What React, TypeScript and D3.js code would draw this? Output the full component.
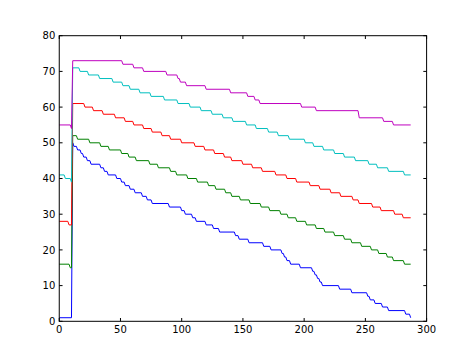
import React from "react";
import * as d3 from "d3";

const W = 474;
const H = 357;

const xTicks = [0, 50, 100, 150, 200, 250, 300];
const yTicks = [0, 10, 20, 30, 40, 50, 60, 70, 80];
const lastX = 287;

// step data: [x where the level starts, level]
const blueSteps: [number, number][] = [
  [0, 1], [11, 50], [12, 49], [15, 48], [18, 47], [20, 46], [23, 45], [26, 44], [34, 43], [37, 42],
  [40, 41], [47, 40], [51, 39], [54, 38], [58, 37], [62, 36], [68, 35], [72, 34], [76, 33], [90, 32],
  [100, 31], [103, 30], [109, 29], [112, 28], [120, 27], [126, 26], [131, 25], [144, 24], [147, 23],
  [155, 22], [167, 21], [173, 20], [182, 19], [184, 18], [186, 17], [189, 16], [197, 15], [207, 14],
  [209, 13], [211, 12], [213, 11], [215, 10], [229, 9], [239, 8], [252, 7], [254, 6], [258, 5],
  [264, 4], [269, 3], [283, 2], [287, 1],
];
const greenSteps: [number, number][] = [
  [0, 16], [9, 15], [11, 52], [15, 51], [25, 50], [34, 49], [41, 48], [51, 47], [57, 46], [63, 45],
  [74, 44], [81, 43], [91, 42], [96, 41], [105, 40], [113, 39], [122, 38], [128, 37], [136, 36],
  [141, 35], [148, 34], [156, 33], [165, 32], [172, 31], [181, 30], [187, 29], [194, 28], [202, 27],
  [210, 26], [217, 25], [225, 24], [233, 23], [239, 22], [247, 21], [255, 20], [261, 19], [268, 18],
  [273, 17], [282, 16],
];
const redSteps: [number, number][] = [
  [0, 28], [8, 27], [11, 61], [21, 60], [28, 59], [36, 58], [46, 57], [54, 56], [61, 55], [69, 54],
  [76, 53], [84, 52], [91, 51], [100, 50], [111, 49], [119, 48], [127, 47], [135, 46], [141, 45],
  [150, 44], [158, 43], [166, 42], [177, 41], [186, 40], [194, 39], [205, 38], [213, 37], [222, 36],
  [230, 35], [240, 34], [245, 33], [256, 32], [263, 31], [274, 30], [281, 29],
];
const cyanSteps: [number, number][] = [
  [0, 41], [5, 40], [10, 39], [11, 71], [17, 70], [24, 69], [33, 68], [44, 67], [52, 66], [58, 65],
  [66, 64], [75, 63], [86, 62], [97, 61], [107, 60], [116, 59], [125, 58], [134, 57], [142, 56],
  [153, 55], [161, 54], [171, 53], [179, 52], [188, 51], [201, 50], [208, 49], [216, 48], [225, 47],
  [233, 46], [242, 45], [253, 44], [260, 43], [269, 42], [282, 41],
];
const magentaSteps: [number, number][] = [
  [0, 55], [10, 54], [11, 73], [52, 72], [61, 71], [69, 70], [88, 69], [97, 68], [99, 67], [104, 66],
  [120, 65], [140, 64], [154, 63], [160, 62], [164, 61], [198, 60], [210, 59], [245, 57], [265, 56],
  [273, 55],
];

const seriesList = [
  { steps: blueSteps, color: "#0000ff" },
  { steps: greenSteps, color: "#008000" },
  { steps: redSteps, color: "#ff0000" },
  { steps: cyanSteps, color: "#00bfbf" },
  { steps: magentaSteps, color: "#bf00bf" },
];

function expand(steps: [number, number][]): [number, number][] {
  const pts: [number, number][] = [];
  steps.forEach(([x, v], i) => {
    pts.push([x, v]);
    const nx = i + 1 < steps.length ? steps[i + 1][0] - 1 : lastX;
    if (nx > x) pts.push([nx, v]);
  });
  return pts;
}

export default function App() {
  const left = 59.25;
  const right = 426.6;
  const top = 35.7;
  const bottom = 321.3;
  const x = d3.scaleLinear().domain([0, 300]).range([left, right]);
  const y = d3.scaleLinear().domain([0, 80]).range([bottom, top]);
  const line = d3
    .line<[number, number]>()
    .x((d) => x(d[0]))
    .y((d) => y(d[1]));
  const tl = 3.3;
  const font = "DejaVu Sans, sans-serif";
  return (
    <svg
      width={W}
      height={H}
      style={{ position: "absolute", left: 0, top: 0, background: "#fff" }}
    >
      <rect x={0} y={0} width={W} height={H} fill="#fff" />
      <g>
        {seriesList.map((s, i) => (
          <path
            key={i}
            d={line(expand(s.steps)) || ""}
            fill="none"
            stroke={s.color}
            strokeWidth={1}
            strokeLinejoin="round"
          />
        ))}
      </g>
      <rect
        x={left}
        y={top}
        width={right - left}
        height={bottom - top}
        fill="none"
        stroke="#000"
        strokeWidth={1}
      />
      {xTicks.map((t) => (
        <g key={"x" + t}>
          <line x1={x(t)} x2={x(t)} y1={bottom} y2={bottom - tl} stroke="#000" />
          <line x1={x(t)} x2={x(t)} y1={top} y2={top + tl} stroke="#000" />
          <text
            x={x(t)}
            y={bottom + 11.5}
            textAnchor="middle"
            fontFamily={font}
            fontSize={10}
            fill="#000"
          >
            {t}
          </text>
        </g>
      ))}
      {yTicks.map((t) => (
        <g key={"y" + t}>
          <line x1={left} x2={left + tl} y1={y(t)} y2={y(t)} stroke="#000" />
          <line x1={right} x2={right - tl} y1={y(t)} y2={y(t)} stroke="#000" />
          <text
            x={left - 4}
            y={y(t) + 3.6}
            textAnchor="end"
            fontFamily={font}
            fontSize={10}
            fill="#000"
          >
            {t}
          </text>
        </g>
      ))}
    </svg>
  );
}
